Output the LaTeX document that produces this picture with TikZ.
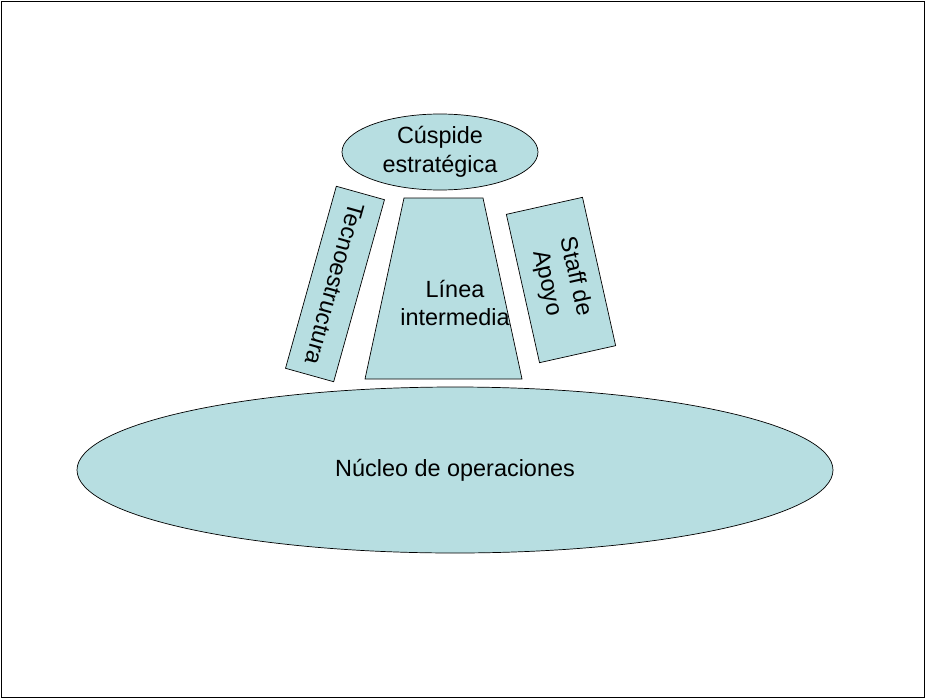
\documentclass[tikz,border=0pt]{standalone}
\usepackage{fontspec}
\setmainfont{Liberation Sans}
\usetikzlibrary{shapes.geometric}
\definecolor{fillc}{HTML}{B7DEE1}
\tikzset{shp/.style={draw=black,fill=fillc,line width=0.6pt},
txt/.style={font=\fontsize{20}{24.5}\selectfont,align=center}}
\begin{document}
\begin{tikzpicture}[x=0.03cm,y=-0.03cm]
\useasboundingbox (0,0) rectangle (925,699);
\draw[line width=0.8pt] (1,1) rectangle (924,697);
\node[shp,ellipse,minimum width=196*0.03cm,minimum height=76*0.03cm,inner sep=0pt,txt] (cus) at (440,152) {Cúspide\\estratégica};
\draw[shp] (404,198) -- (483,198) -- (522,379) -- (365,379) -- cycle;
\node[txt] (lin) at (455,303) {Línea\\intermedia};
\node[shp,rectangle,rotate=-105.6,minimum width=189*0.03cm,minimum height=50*0.03cm,inner sep=0pt,txt] (tec) at (335,284) {Tecnoestructura};
\node[shp,rectangle,rotate=-77.4,minimum width=152*0.03cm,minimum height=78*0.03cm,inner sep=0pt,txt] (sta) at (561,280) {Staff de\\Apoyo};
\node[shp,ellipse,minimum width=756*0.03cm,minimum height=166*0.03cm,txt] (nuc) at (455,470) {Núcleo de operaciones};
\end{tikzpicture}
\end{document}
